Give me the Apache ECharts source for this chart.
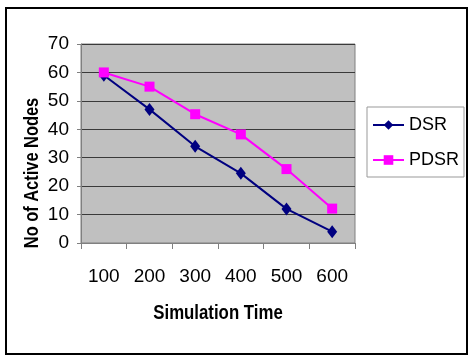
<!DOCTYPE html>
<html><head><meta charset="utf-8">
<script src="https://cdn.jsdelivr.net/npm/echarts@6/dist/echarts.min.js"></script>
<style>html,body{margin:0;padding:0;background:#fff}#c{width:474px;height:364px}</style>
</head><body><div id="c"></div>
<script>
var categories = ['100','200','300','400','500','600'];
var dsr = [59, 47, 34, 24.5, 12, 4];
var pdsr = [60, 55, 45.3, 38.2, 26, 12.1];
var yTicks = {min:0, max:70, interval:10};
var FONT = '"Liberation Sans Narrow","Liberation Sans",Arial,sans-serif';
var chart = echarts.init(document.getElementById('c'), null, {renderer:'canvas'});
chart.setOption({
  animation:false,
  backgroundColor:'#fff',
  grid:{left:81, right:119, top:44, bottom:121, show:true, backgroundColor:'#C0C0C0', borderColor:'#808080', borderWidth:1},
  xAxis:{type:'category', data:categories, boundaryGap:true,
    axisLine:{show:true, lineStyle:{color:'#808080', width:1}},
    axisTick:{show:true, length:6, lineStyle:{color:'#808080'}},
    axisLabel:{fontFamily:FONT, fontSize:19, color:'#000', margin:24}},
  yAxis:{type:'value', min:yTicks.min, max:yTicks.max, interval:yTicks.interval,
    axisLine:{show:true, lineStyle:{color:'#808080', width:1}},
    axisTick:{show:true, length:4, lineStyle:{color:'#808080'}},
    splitLine:{show:true, lineStyle:{color:'#3a3a3a', width:1}},
    axisLabel:{fontFamily:FONT, fontSize:19, color:'#000', margin:12}},
  legend:{orient:'vertical', left:367, top:107,
    data:['DSR','PDSR'],
    borderColor:'#999', borderWidth:1, backgroundColor:'#fff',
    padding:[9,5,8,5], itemWidth:31, itemHeight:12, itemGap:17,
    textStyle:{fontFamily:FONT, fontSize:18, color:'#000'}},
  graphic:[
    {type:'rect', shape:{x:6, y:8, width:461, height:346}, style:{fill:'none', stroke:'#000', lineWidth:2}, z:100},
    {type:'text', x:32, y:173, rotation:Math.PI/2, scaleX:0.82, style:{text:'No of Active Nodes', font:'bold 20px '+FONT, fill:'#000', textAlign:'center', textVerticalAlign:'middle'}},
    {type:'text', x:218, y:313, scaleX:0.84, style:{text:'Simulation Time', font:'bold 20px '+FONT, fill:'#000', textAlign:'center', textVerticalAlign:'middle'}}
  ],
  series:[
    {name:'DSR', type:'line', data:dsr, symbol:'diamond', symbolSize:[10,13],
      lineStyle:{color:'#000080', width:2}, itemStyle:{color:'#000080'}},
    {name:'PDSR', type:'line', data:pdsr, symbol:'rect', symbolSize:10,
      lineStyle:{color:'#FF00FF', width:2}, itemStyle:{color:'#FF00FF'}}
  ]
});
</script></body></html>
